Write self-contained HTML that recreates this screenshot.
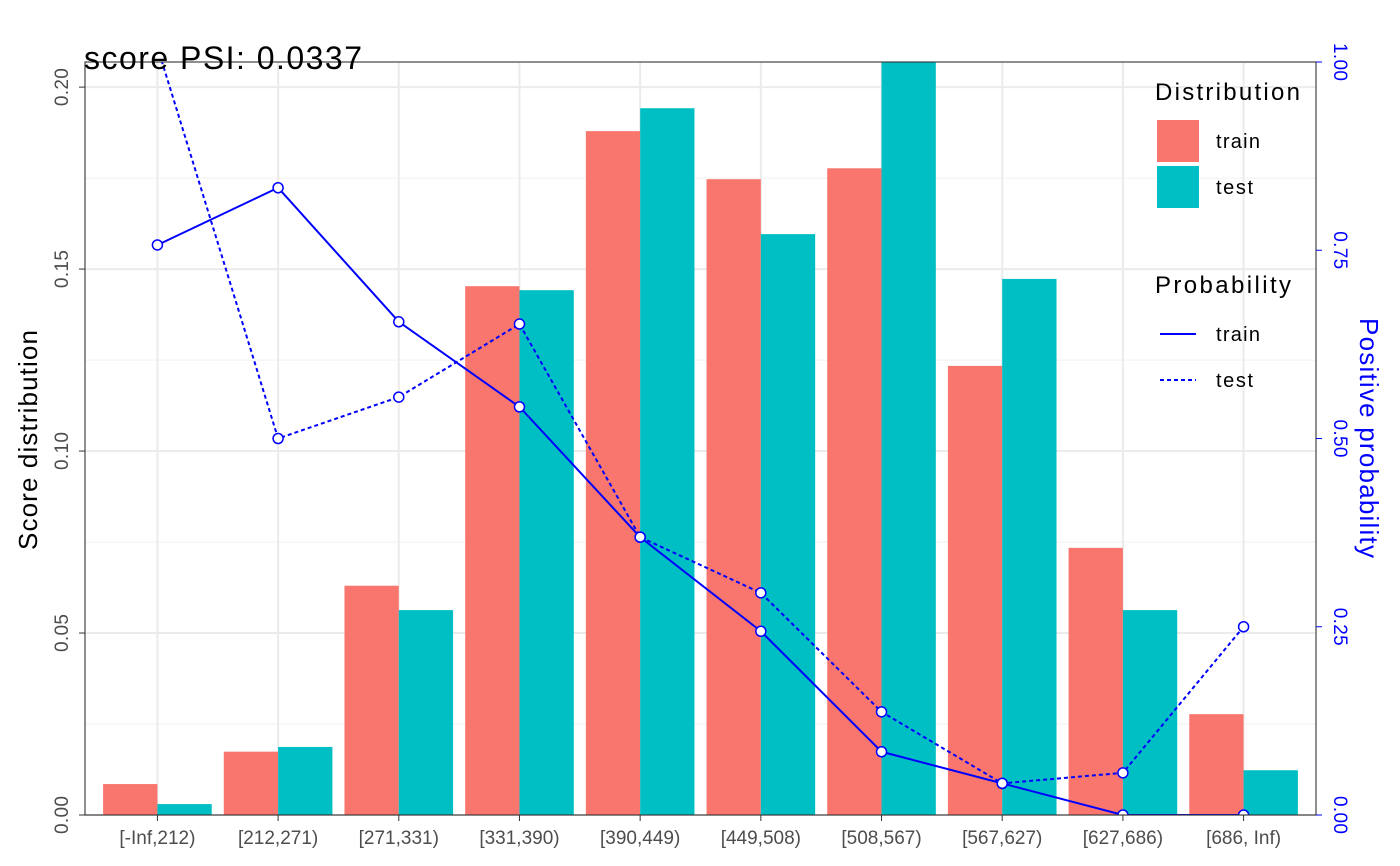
<!DOCTYPE html>
<html><head><meta charset="utf-8"><style>
html,body{margin:0;padding:0;background:#fff;}
svg{display:block;font-family:"Liberation Sans",Arial,sans-serif;}
</style></head><body>
<svg id="chart" width="1400" height="866">
<defs><clipPath id="pc"><rect x="85" y="62" width="1231" height="753"/></clipPath></defs>
<g id="grid"></g><g id="bars" clip-path="url(#pc)"></g><g id="lines" clip-path="url(#pc)"></g>
<rect x="85" y="62" width="1231" height="753" fill="none" stroke="#333" stroke-width="1.1"/>
<g id="axes"></g>
<text x="84" y="69" font-size="32" textLength="278" fill="#000">score PSI: 0.0337</text>
<text transform="translate(37,440) rotate(-90)" text-anchor="middle" font-size="26" textLength="220" fill="#000">Score distribution</text>
<text transform="translate(1360,438) rotate(90)" text-anchor="middle" font-size="26" textLength="240" fill="#0000ff">Positive probability</text>
<g>
<text x="1155" y="100" font-size="24" textLength="145">Distribution</text>
<rect x="1157" y="120" width="42" height="42" fill="#F8766D"/>
<text x="1216" y="148" font-size="20" textLength="44">train</text>
<rect x="1157" y="166" width="42" height="42" fill="#00BFC4"/>
<text x="1216" y="194" font-size="20" textLength="37">test</text>
<text x="1155" y="293" font-size="24" textLength="136">Probability</text>
<line x1="1160" y1="334" x2="1196" y2="334" stroke="#0000ff" stroke-width="2"/>
<text x="1216" y="341" font-size="20" textLength="44">train</text>
<line x1="1160" y1="380" x2="1196" y2="380" stroke="#0000ff" stroke-width="2" stroke-dasharray="4,3"/>
<text x="1216" y="387" font-size="20" textLength="37">test</text>
</g>
</svg>
<script>
const categories=["[-Inf,212)","[212,271)","[271,331)","[331,390)","[390,449)","[449,508)","[508,567)","[567,627)","[627,686)","[686, Inf)"];
const trainDist=[0.0085,0.0174,0.0630,0.1453,0.1879,0.1747,0.1777,0.1234,0.0734,0.0277];
const testDist=[0.0030,0.0187,0.0563,0.1442,0.1942,0.1596,0.2150,0.1473,0.0563,0.0123];
const trainProb=[0.757,0.833,0.655,0.542,0.369,0.244,0.084,0.042,0,0];
const testProb=[1.02,0.50,0.555,0.652,0.369,0.295,0.137,0.042,0.056,0.25];
const leftTicks=[0,0.05,0.10,0.15,0.20];
const leftTickLabels=["0.00","0.05","0.10","0.15","0.20"];
const rightTicks=[0,0.25,0.5,0.75,1];
const rightTickLabels=["0.00","0.25","0.50","0.75","1.00"];
const NS="http://www.w3.org/2000/svg";
const L=85,R=1316,T=62,B=815;
const step=(R-L)/(categories.length+0.2);
const xc=i=>L+step*(i+0.6);
const yL=v=>B-v*(B-T)/0.2069;
const yR=v=>B-v*(B-T)/1.0;
function mk(tag,attrs,parent){const e=document.createElementNS(NS,tag);for(const k in attrs)e.setAttribute(k,attrs[k]);parent.appendChild(e);return e;}
const grid=document.getElementById('grid'),bars=document.getElementById('bars'),lines=document.getElementById('lines'),axes=document.getElementById('axes');
mk('rect',{x:L,y:T,width:R-L,height:B-T,fill:'#fff'},grid);
for(let v=0.025;v<0.207;v+=0.05){mk('line',{x1:L,x2:R,y1:yL(v),y2:yL(v),stroke:'#f0f0f0','stroke-width':1},grid);}
leftTicks.forEach((v,i)=>{
 mk('line',{x1:L,x2:R,y1:yL(v),y2:yL(v),stroke:'#ebebeb','stroke-width':2},grid);
 mk('line',{x1:L-6,x2:L,y1:yL(v),y2:yL(v),stroke:'#333','stroke-width':1},axes);
 const t=mk('text',{transform:`translate(${L-17},${yL(v)}) rotate(-90)`,'text-anchor':'middle','font-size':19,textLength:38,fill:'#4d4d4d'},axes);
 t.textContent=leftTickLabels[i];
 
 
});
rightTicks.forEach((v,i)=>{
 mk('line',{x1:R,x2:R+6,y1:yR(v),y2:yR(v),stroke:'#0000ff','stroke-width':1},axes);
 const t=mk('text',{transform:`translate(${R+18},${yR(v)}) rotate(90)`,'text-anchor':'middle','font-size':19,textLength:38,fill:'#0000ff'},axes);
 t.textContent=rightTickLabels[i];
 
 
});
categories.forEach((c,i)=>{
 mk('line',{x1:xc(i),x2:xc(i),y1:T,y2:B,stroke:'#ebebeb','stroke-width':2},grid);
 mk('line',{x1:xc(i),x2:xc(i),y1:B,y2:B+6,stroke:'#333','stroke-width':1},axes);
 const t=mk('text',{x:xc(i),y:B+29,'text-anchor':'middle','font-size':19,fill:'#4d4d4d'},axes);
 t.textContent=c;
 
 
 const bw=step*0.45;
 const b1=mk('rect',{x:xc(i)-bw,y:yL(trainDist[i]),width:bw,height:B-yL(trainDist[i]),fill:'#F8766D'},bars);
 
 
 const b2=mk('rect',{x:xc(i),y:yL(testDist[i]),width:bw,height:B-yL(testDist[i]),fill:'#00BFC4'},bars);
 
 
});
function series(vals,dash,name){
 const p=mk('polyline',{points:vals.map((v,i)=>xc(i)+','+yR(v)).join(' '),fill:'none',stroke:'#0000ff','stroke-width':2,'stroke-dasharray':dash},lines);
 
 
 vals.forEach((v,i)=>{
  const c=mk('circle',{cx:xc(i),cy:yR(v),r:5,fill:'#fff',stroke:'#0000ff','stroke-width':1.5},lines);
  
  
 });
}
series(trainProb,'none','prob-train');
series(testProb,'4,3','prob-test');
</script>
</body></html>
